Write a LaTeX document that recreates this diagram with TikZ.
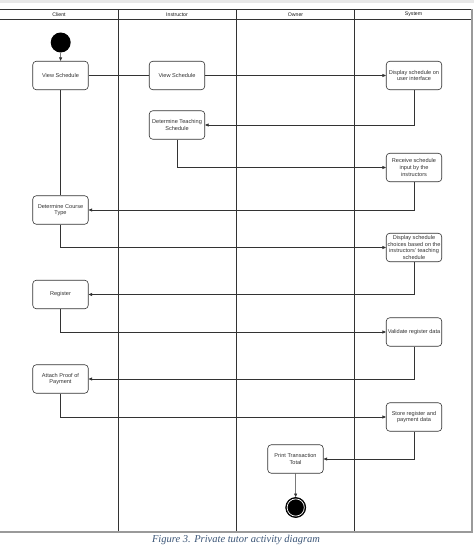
\documentclass[tikz,border=0pt]{standalone}
\usepackage{fontspec}
\setmainfont{Liberation Sans}
\newfontfamily\capfont{Liberation Serif}
\usetikzlibrary{arrows.meta}
\definecolor{lineclr}{HTML}{333333}
\definecolor{frameclr}{HTML}{9A9A9A}
\definecolor{capclr}{HTML}{3B5577}
\tikzset{
  act/.style={draw=lineclr, line width=0.6pt, rounded corners=3.5pt, fill=white,
    minimum width=55.5pt, minimum height=28.5pt, align=center,
    inner sep=1pt, font=\fontsize{5.6}{6.7}\selectfont, text=black!80},
  flow/.style={draw=lineclr, line width=0.6pt, -{Triangle[length=3.5pt,width=3pt]}},
  plain/.style={draw=lineclr, line width=0.6pt},
  lane/.style={draw=black!80, line width=0.6pt},
  hdr/.style={font=\fontsize{5.2}{6}\selectfont, text=black!90, inner sep=0pt}
}
\begin{document}
\begin{tikzpicture}[x=1pt,y=-1pt]
\useasboundingbox (0,0) rectangle (474,545);
\fill[white] (0,0) rectangle (474,545);
\fill[black!9] (0,0) rectangle (474,3);
% frame
\draw[lane] (0,9.5) -- (472,9.5);
\draw[lane] (0,19) -- (472,19);
\draw[lane] (118,9.5) -- (118,532);
\draw[lane] (236.5,9.5) -- (236.5,532);
\draw[lane] (354.5,9.5) -- (354.5,532);
\draw[frameclr, line width=1.6pt] (0,532) -- (472,532) -- (472,9);
% headers
\node[hdr] (hc) at (59,14.5) {Client};
\node[hdr] (hi) at (177,14.5) {Instructor};
\node[hdr] (ho) at (295.5,14.5) {Owner};
\node[hdr] (hs) at (413.5,14.5) {System};
% start / end
\node[circle, fill=black, minimum size=20pt, inner sep=0pt] (start) at (60.7,42.5) {};
\node[circle, fill=black, draw=black, line width=0.8pt, minimum size=20pt, inner sep=0pt] (end) at (295.7,507.5) {};
\draw[white, line width=0.7pt] (end.center) circle (8.6pt);
% activities
\node[act] (cvs) at (60.5,75.5) {View Schedule};
\node[act] (ivs) at (177,75.5) {View Schedule};
\node[act] (sdisp) at (414,75.5) {Display schedule on\\user interface};
\node[act] (idet) at (177,125) {Determine Teaching\\Schedule};
\node[act] (srecv) at (414,167.5) {Receive schedule\\input by the\\instructors};
\node[act] (cdet) at (60.5,210) {Determine Course\\Type};
\node[act] (schoice) at (414,247.5) {Display schedule\\choices based on the\\instructors' teaching\\schedule};
\node[act] (creg) at (60.5,294.5) {Register};
\node[act] (sval) at (414,332) {Validate register data};
\node[act] (cpay) at (60.5,379) {Attach Proof of\\Payment};
\node[act] (sstore) at (414,417) {Store register and\\payment data};
\node[act] (oprint) at (295.5,459) {Print Transaction\\Total};
% connectors
\draw[flow] (start) -- (cvs);
\draw[plain] (cvs) -- (ivs);
\draw[flow] (ivs) -- (sdisp);
\draw[flow] (sdisp.south) |- (idet.east);
\draw[flow] (idet.south) |- (srecv.west);
\draw[flow] (srecv.south) |- (cdet.east);
\draw[plain] (cvs) -- (cdet);
\draw[flow] (cdet.south) |- (schoice.west);
\draw[flow] (schoice.south) |- (creg.east);
\draw[flow] (creg.south) |- (sval.west);
\draw[flow] (sval.south) |- (cpay.east);
\draw[flow] (cpay.south) |- (sstore.west);
\draw[flow] (sstore.south) |- (oprint.east);
\draw[flow] (oprint) -- (end);
% caption
\node[font=\capfont\itshape\fontsize{10.5}{12}\selectfont, text=capclr, inner sep=0pt] (cap) at (236,539.5) {Figure 3. Private tutor activity diagram};
\end{tikzpicture}
\end{document}
